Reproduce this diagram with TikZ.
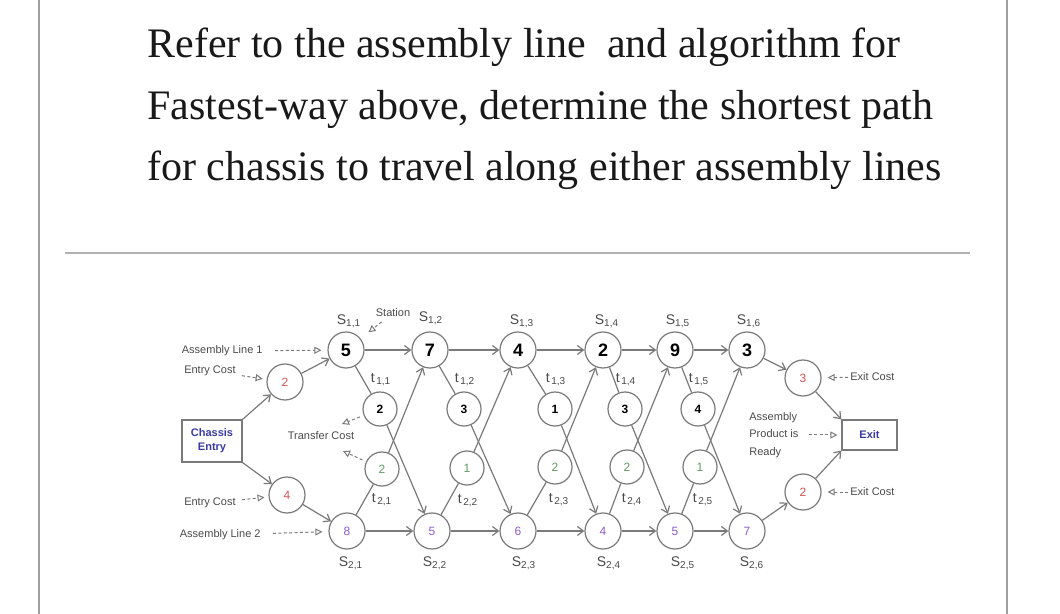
\documentclass[tikz,border=0pt]{standalone}
\usepackage{fontspec}
\setmainfont{Liberation Serif}
\newfontfamily\diagfont{Liberation Sans}
\usepackage{xcolor}
\usetikzlibrary{arrows.meta}

\definecolor{linegray}{HTML}{7A7A7A}
\definecolor{costred}{HTML}{D9534F}
\definecolor{linepurple}{HTML}{8E5BD0}
\definecolor{tgreen}{HTML}{5E9E5E}
\definecolor{boxblue}{HTML}{3B3BA8}
\definecolor{labgray}{HTML}{4A4A4A}

\tikzset{
  title/.style = {anchor=base west, inner sep=0pt, text=black!90, font=\fontsize{21}{25}\selectfont},
  station/.style = {circle, draw=linegray, line width=0.6pt, minimum size=18pt, inner sep=0pt,
    font=\diagfont\bfseries\fontsize{9}{9}\selectfont},
  station2/.style = {station, text=linepurple, font=\diagfont\fontsize{6}{6}\selectfont},
  tnode/.style = {station, minimum size=17pt, font=\diagfont\bfseries\fontsize{6}{6}\selectfont},
  tnode2/.style = {tnode, text=tgreen, font=\diagfont\fontsize{6}{6}\selectfont},
  costnode/.style = {station, text=costred, font=\diagfont\fontsize{6}{6}\selectfont},
  box/.style = {draw=linegray, line width=0.6pt, align=center, inner sep=1pt, text=boxblue,
    font=\diagfont\bfseries\fontsize{5.5}{7}\selectfont},
  lab/.style = {inner sep=1pt, text=labgray, font=\diagfont\fontsize{5.5}{8.75}\selectfont},
  slab/.style = {inner sep=0pt, text=labgray, font=\diagfont\fontsize{7}{7}\selectfont},
  conn/.style = {draw=linegray, line width=0.6pt, -{Straight Barb[length=3pt,width=4.5pt]}},
  plain/.style = {draw=linegray, line width=0.6pt},
  dasharrow/.style = {draw=linegray, line width=0.5pt, dash pattern=on 1.5pt off 1.2pt,
    -{Triangle[open,length=3.5pt,width=3.5pt]}, shorten <=2pt, shorten >=2pt}
}

\begin{document}
\begin{tikzpicture}[x=0.5pt, y=-0.5pt]
\useasboundingbox (0,0) rectangle (1060,614);
\fill[white] (0,0) rectangle (1060,614);
\draw[gray!75, line width=0.8pt] (39,0) -- (39,614);
\draw[gray!75, line width=0.8pt] (1007,0) -- (1007,614);
\draw[gray!60, line width=0.8pt] (65,253) -- (970,253);

\node[title] (q1) at (147,58) {Refer to the assembly line\ \ and algorithm for};
\node[title] (q2) at (147,119.5) {Fastest-way above, determine the shortest path};
\node[title] (q3) at (147,181) {for chassis to travel along either assembly lines};

\node[box, minimum width=30pt, minimum height=21pt] (entry) at (212,441) {Chassis\\Entry};
\node[box, minimum width=27.5pt, minimum height=15pt] (exit) at (869.5,435) {Exit};

\node[costnode] (e1) at (285,382) {2};
\node[costnode] (e2) at (287,495) {4};

\node[station] (s11) at (346,350) {5};
\node[station] (s12) at (430,350) {7};
\node[station] (s13) at (518,350) {4};
\node[station] (s14) at (603,350) {2};
\node[station] (s15) at (675,350) {9};
\node[station] (s16) at (747,350) {3};
	\node[slab] (ls11) at (349,321) {S\textsubscript{1,1}};
	\node[slab] (ls12) at (431,318) {S\textsubscript{1,2}};
	\node[slab] (ls13) at (522,321) {S\textsubscript{1,3}};
	\node[slab] (ls14) at (607,321) {S\textsubscript{1,4}};
	\node[slab] (ls15) at (678,321) {S\textsubscript{1,5}};
	\node[slab] (ls16) at (749,321) {S\textsubscript{1,6}};

\node[tnode] (t11) at (380,409) {2};
\node[tnode] (t12) at (464,409) {3};
\node[tnode] (t13) at (555,409) {1};
\node[tnode] (t14) at (625,409) {3};
\node[tnode] (t15) at (698,409) {4};
	\node[slab] (lt11) at (381,380) {t\textsubscript{\,1,1}};
	\node[slab] (lt12) at (465,380) {t\textsubscript{\,1,2}};
	\node[slab] (lt13) at (556,380) {t\textsubscript{\,1,3}};
	\node[slab] (lt14) at (626,380) {t\textsubscript{\,1,4}};
	\node[slab] (lt15) at (699,380) {t\textsubscript{\,1,5}};

\node[tnode2] (t21) at (382,469) {2};
\node[tnode2] (t22) at (467,468) {1};
\node[tnode2] (t23) at (555,467) {2};
\node[tnode2] (t24) at (627,467) {2};
\node[tnode2] (t25) at (700,467) {1};
	\node[slab] (lt21) at (382,500) {t\textsubscript{\,2,1}};
	\node[slab] (lt22) at (468,501) {t\textsubscript{\,2,2}};
	\node[slab] (lt23) at (559,500) {t\textsubscript{\,2,3}};
	\node[slab] (lt24) at (632,500) {t\textsubscript{\,2,4}};
	\node[slab] (lt25) at (703,500) {t\textsubscript{\,2,5}};

\node[station2] (s21) at (347,531) {8};
\node[station2] (s22) at (432,531) {5};
\node[station2] (s23) at (518,531) {6};
\node[station2] (s24) at (603,531) {4};
\node[station2] (s25) at (675,531) {5};
\node[station2] (s26) at (747,531) {7};
	\node[slab] (ls21) at (351,563) {S\textsubscript{2,1}};
	\node[slab] (ls22) at (435,563) {S\textsubscript{2,2}};
	\node[slab] (ls23) at (524,563) {S\textsubscript{2,3}};
	\node[slab] (ls24) at (609,563) {S\textsubscript{2,4}};
	\node[slab] (ls25) at (683,563) {S\textsubscript{2,5}};
	\node[slab] (ls26) at (752,563) {S\textsubscript{2,6}};

\node[costnode] (x1) at (803,378) {3};
\node[costnode] (x2) at (803,492) {2};

\node[lab, anchor=east] (al1) at (265,351) {Assembly Line 1};
\node[lab, anchor=east] (ec1) at (238,371) {Entry Cost};
\node[lab, anchor=east] (ec2) at (238,503) {Entry Cost};
\node[lab, anchor=east] (al2) at (263,535) {Assembly Line 2};
\node[lab] (stlab) at (393,313) {Station};
\node[lab] (tc) at (321,436) {Transfer Cost};
\node[lab, align=left, anchor=west] (ready) at (747,435) {Assembly\\Product is\\Ready};
\node[lab, anchor=west] (xc1) at (848,377) {Exit Cost};
\node[lab, anchor=west] (xc2) at (848,492) {Exit Cost};
\coordinate (tcup) at (342,424);
\coordinate (tcdown) at (343,451);

\draw[conn] (entry.north east) -- (e1);
\draw[conn] (entry.south east) -- (e2);
\draw[conn] (e1) -- (s11);
\draw[conn] (e2) -- (s21);

\draw[conn] (s11) -- (s12);
\draw[conn] (s12) -- (s13);
\draw[conn] (s13) -- (s14);
\draw[conn] (s14) -- (s15);
\draw[conn] (s15) -- (s16);
\draw[conn] (s21) -- (s22);
\draw[conn] (s22) -- (s23);
\draw[conn] (s23) -- (s24);
\draw[conn] (s24) -- (s25);
\draw[conn] (s25) -- (s26);

\draw[plain] (s11) -- (t11); \draw[conn] (t11) -- (s22);
\draw[plain] (s12) -- (t12); \draw[conn] (t12) -- (s23);
\draw[plain] (s13) -- (t13); \draw[conn] (t13) -- (s24);
\draw[plain] (s14) -- (t14); \draw[conn] (t14) -- (s25);
\draw[plain] (s15) -- (t15); \draw[conn] (t15) -- (s26);

\draw[plain] (s21) -- (t21); \draw[conn] (t21) -- (s12);
\draw[plain] (s22) -- (t22); \draw[conn] (t22) -- (s13);
\draw[plain] (s23) -- (t23); \draw[conn] (t23) -- (s14);
\draw[plain] (s24) -- (t24); \draw[conn] (t24) -- (s15);
\draw[plain] (s25) -- (t25); \draw[conn] (t25) -- (s16);

\draw[conn] (s16) -- (x1);
\draw[conn] (x1) -- (exit.north west);
\draw[conn] (s26) -- (x2);
\draw[conn] (x2) -- (exit.south west);

\draw[dasharrow, shorten <=5pt, shorten >=3pt] (al1) -- (s11);
\draw[dasharrow] (ec1) -- (e1);
\draw[dasharrow, shorten >=5pt] (stlab) -- (s11);
\draw[dasharrow, shorten >=0pt] (t11) -- (tcup);
\draw[dasharrow, shorten >=0pt] (t21) -- (tcdown);
\draw[dasharrow] (ec2) -- (e2);
\draw[dasharrow, shorten <=5pt, shorten >=3pt] (al2) -- (s21);
\draw[dasharrow, shorten <=4pt] (ready) -- (exit);
\draw[dasharrow, shorten <=0pt, shorten >=3pt] (xc1) -- (x1);
\draw[dasharrow, shorten <=0pt, shorten >=3pt] (xc2) -- (x2);

\end{tikzpicture}
\end{document}
